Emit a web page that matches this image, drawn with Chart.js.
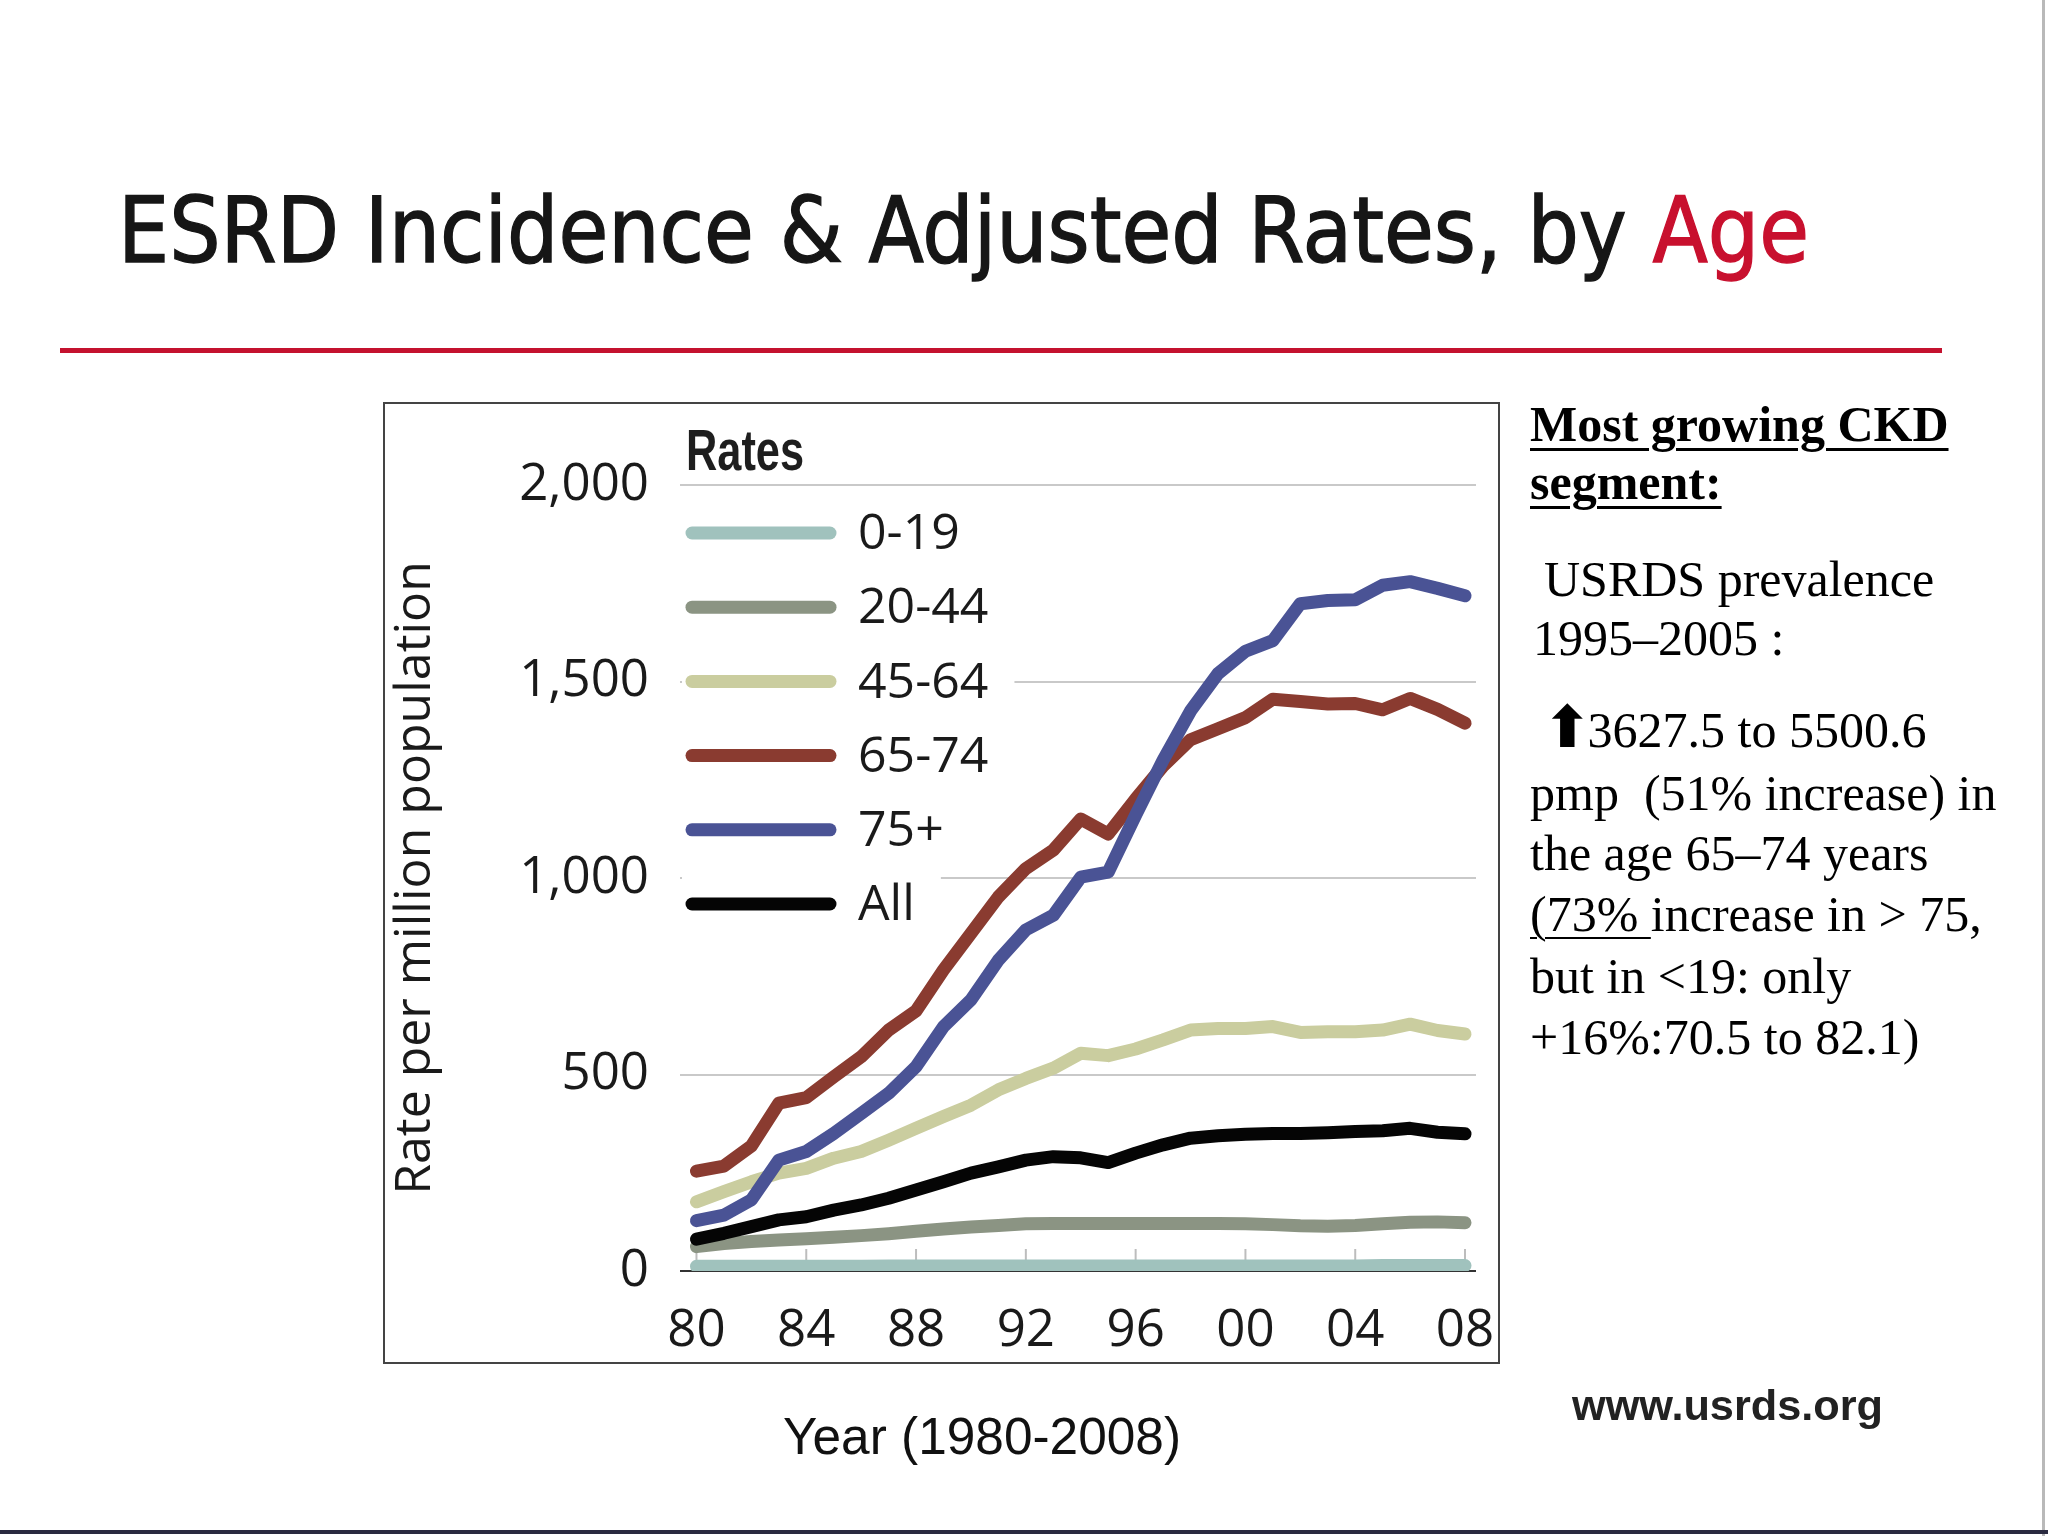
<!DOCTYPE html>
<html>
<head>
<meta charset="utf-8">
<title>ESRD Incidence &amp; Adjusted Rates, by Age</title>
<script src="https://cdn.jsdelivr.net/npm/chart.js@4.4.1/dist/chart.umd.min.js"></script>
<style>
  html, body { margin: 0; padding: 0; background: #fff; }
  #page { position: relative; width: 2048px; height: 1536px; overflow: hidden; background: #fff; }
  .abs { position: absolute; white-space: nowrap; }
  #title { font-family: "DejaVu Sans Condensed", "DejaVu Sans", sans-serif; font-stretch: condensed; font-size: 90px; color: #161616; line-height: 1; -webkit-text-stroke: 1.3px #161616; }
  #title .red { color: #c8102e; -webkit-text-stroke: 1.3px #c8102e; }
  #rule { left: 60px; top: 348px; width: 1882px; height: 5px; background: #c4122f; }
  #box { left: 383px; top: 402px; width: 1113px; height: 958px; border: 2px solid #444; }
  #chart { position: absolute; left: 0; top: 0; }
  #xtitle { font-family: "Liberation Sans", Arial, sans-serif; font-size: 52px; color: #111; line-height: 1; }
  #source { font-family: "Liberation Sans", Arial, sans-serif; font-weight: bold; font-size: 43px; color: #222; line-height: 1; }
  .note { font-family: "Liberation Serif", "Times New Roman", serif; font-size: 50px; color: #000; line-height: 1; }
  .note.head { font-weight: bold; text-decoration: underline; text-decoration-thickness: 3px; text-underline-offset: 7px; }
  .note u { text-decoration-thickness: 2px; text-underline-offset: 6px; }
  .arrow { font-family: "DejaVu Sans", sans-serif; font-weight: bold; font-size: 58px; margin-right: -4px; }
  #edgeRight { left: 2042px; top: 0; width: 3px; height: 1536px; background: #b9b9b9; }
  #edgeBottom { left: 0; top: 1530px; width: 2048px; height: 4px; background: #2a2a40; }
</style>
</head>
<body>
<div id="page">
  <div id="title" class="abs">ESRD Incidence &amp; Adjusted Rates, by <span class="red">Age</span></div>
  <div id="rule" class="abs"></div>
  <div id="box" class="abs"></div>
  <canvas id="chart" width="2048" height="1536"></canvas>
  <div id="xtitle" class="abs">Year (1980-2008)</div>
  <div id="source" class="abs">www.usrds.org</div>

  <div class="abs note head" data-x="1530" data-b="441">Most growing CKD</div>
  <div class="abs note head" data-x="1530" data-b="499">segment:</div>
  <div class="abs note" data-x="1544" data-b="596">USRDS prevalence</div>
  <div class="abs note" data-x="1533" data-b="655">1995–2005 :</div>
  <div class="abs note" data-x="1543" data-b="747"><span class="arrow">⬆</span>3627.5 to 5500.6</div>
  <div class="abs note" data-x="1530" data-b="810">pmp&nbsp; (51% increase) in</div>
  <div class="abs note" data-x="1530" data-b="870">the age 65–74 years</div>
  <div class="abs note" data-x="1530" data-b="931"><u>(73% </u>increase in &gt; 75,</div>
  <div class="abs note" data-x="1530" data-b="993">but in &lt;19: only</div>
  <div class="abs note" data-x="1530" data-b="1054">+16%:70.5 to 82.1)</div>

  <div id="edgeRight" class="abs"></div>
  <div id="edgeBottom" class="abs"></div>
</div>

<script>
// Incidence rates per million population, by age group, 1980-2008
const years = [1980, 1981, 1982, 1983, 1984, 1985, 1986, 1987, 1988, 1989,
               1990, 1991, 1992, 1993, 1994, 1995, 1996, 1997, 1998, 1999,
               2000, 2001, 2002, 2003, 2004, 2005, 2006, 2007, 2008];
const xTickYears = [1980, 1984, 1988, 1992, 1996, 2000, 2004, 2008];
const xTickLabels = ['80', '84', '88', '92', '96', '00', '04', '08'];
const yTicks = [0, 500, 1000, 1500, 2000];
const yTickLabels = ['0', '500', '1,000', '1,500', '2,000'];

const seriesNames = ['0-19', '20-44', '45-64', '65-74', '75+', 'All'];
const seriesColors = ['#a0c2bd', '#8b9483', '#cacd9f', '#8a3b30', '#4a5395', '#050505'];

const age0to19 = [12, 12, 12, 12, 12, 12, 12, 13, 13, 13,
                  13, 13, 13, 13, 13, 13, 13, 13, 13, 13,
                  13, 13, 13, 13, 13, 14, 14, 14, 14];
const age20to44 = [62, 70, 75, 79, 82, 86, 90, 95, 101, 107,
                   112, 116, 120, 121, 121, 121, 121, 121, 121, 121,
                   120, 118, 115, 114, 116, 120, 124, 125, 123];
const age45to64 = [176, 202, 227, 249, 261, 287, 304, 333, 363, 393,
                   422, 461, 490, 516, 554, 548, 565, 588, 613, 617,
                   617, 622, 607, 609, 609, 613, 628, 612, 603];
const age65to74 = [254, 267, 318, 427, 441, 494, 545, 613, 662, 766,
                   859, 952, 1024, 1071, 1150, 1112, 1201, 1285, 1352, 1380,
                   1408, 1455, 1449, 1443, 1444, 1428, 1457, 1429, 1394];
const age75plus = [128, 142, 181, 282, 304, 350, 401, 452, 520, 622,
                   690, 791, 868, 905, 1002, 1015, 1160, 1300, 1425, 1520,
                   1577, 1604, 1698, 1706, 1708, 1745, 1754, 1737, 1718];
const allAges = [81, 96, 113, 130, 138, 155, 168, 185, 206, 227,
                 249, 265, 282, 291, 288, 276, 300, 321, 338, 344,
                 348, 350, 350, 352, 355, 357, 363, 353, 349];

const seriesValues = [age0to19, age20to44, age45to64, age65to74, age75plus, allAges];
// drawing order: lower number ends up on top
const seriesOrder = [5, 4, 3, 2, 1, 0];

const tickFont = { family: '"Open Sans", sans-serif', size: 51 };
const inkColor = '#1a1a1a';

// Legend inside the plot, each row on a white patch that hides the grid
const ratesLegend = {
  id: 'ratesLegend',
  beforeDatasetsDraw(chart) {
    const ctx = chart.ctx;
    const area = chart.chartArea;
    const x = chart.scales.x;
    const y = chart.scales.y;
    ctx.save();

    // zero line, then small year ticks standing on it
    const y0 = y.getPixelForValue(0);
    ctx.strokeStyle = '#333';
    ctx.lineWidth = 2;
    ctx.beginPath();
    ctx.moveTo(area.left, y0);
    ctx.lineTo(area.right, y0);
    ctx.stroke();
    ctx.strokeStyle = '#bdbdbd';
    xTickYears.forEach(yr => {
      const px = x.getPixelForValue(yr);
      ctx.beginPath();
      ctx.moveTo(px, y0);
      ctx.lineTo(px, y0 - 22);
      ctx.stroke();
    });

    // legend title, squeezed to the narrow bold face of the original
    ctx.fillStyle = '#1e1e1e';
    ctx.textAlign = 'left';
    ctx.textBaseline = 'alphabetic';
    ctx.font = 'bold 58px "Liberation Sans Narrow", "Liberation Sans", sans-serif';
    const titleW = ctx.measureText('Rates').width;
    ctx.save();
    ctx.translate(area.left + 6, area.top - 15);
    ctx.scale(118 / titleW, 1);
    ctx.fillText('Rates', 0, 0);
    ctx.restore();

    // legend rows
    ctx.font = '50px "Open Sans", sans-serif';
    const lineStart = area.left + 12;
    const lineEnd = area.left + 150;
    const textX = area.left + 178;
    const rowStep = 74.2;
    seriesNames.forEach((name, i) => {
      const cy = area.top + 48 + i * rowStep;
      const tw = ctx.measureText(name).width;
      ctx.fillStyle = '#fff';
      ctx.fillRect(area.left + 2, cy - rowStep / 2, textX + tw + 26 - area.left - 2, rowStep);
      ctx.strokeStyle = seriesColors[i];
      ctx.lineWidth = 13;
      ctx.lineCap = 'round';
      ctx.beginPath();
      ctx.moveTo(lineStart, cy);
      ctx.lineTo(lineEnd, cy);
      ctx.stroke();
      ctx.fillStyle = inkColor;
      ctx.textBaseline = 'middle';
      ctx.fillText(name, textX, cy + 2);
    });
    ctx.restore();
  }
};

function placeText(el, left, baseline, width) {
  el.style.left = left + 'px';
  el.style.top = '0px';
  el.style.transform = 'none';
  const mark = document.createElement('span');
  mark.style.cssText = 'display:inline-block;width:0;height:0;vertical-align:baseline';
  el.appendChild(mark);
  const off = mark.getBoundingClientRect().top - el.getBoundingClientRect().top;
  el.removeChild(mark);
  el.style.top = (baseline - off) + 'px';
  if (width) {
    const w = el.getBoundingClientRect().width;
    el.style.transformOrigin = '0 0';
    el.style.transform = 'scaleX(' + (width / w) + ')';
  }
}

function layoutText() {
  placeText(document.getElementById('title'), 118, 262, 1691);
  placeText(document.getElementById('xtitle'), 783, 1454, 398);
  placeText(document.getElementById('source'), 1572, 1420, 311);
  document.querySelectorAll('.note').forEach(el => {
    placeText(el, +el.dataset.x, +el.dataset.b);
  });
}

function buildChart() {
  const datasets = seriesNames.map((name, i) => ({
    label: name,
    data: years.map((yr, k) => ({ x: yr, y: seriesValues[i][k] })),
    borderColor: seriesColors[i],
    borderWidth: 13,
    borderJoinStyle: 'round',
    borderCapStyle: 'round',
    pointRadius: 0,
    tension: 0,
    fill: false,
    order: seriesOrder[i]
  }));

  new Chart(document.getElementById('chart'), {
    type: 'line',
    data: { datasets },
    plugins: [ratesLegend],
    options: {
      responsive: false,
      animation: false,
      devicePixelRatio: 1,
      layout: { padding: { left: 386, right: 572, top: 485, bottom: 165 } },
      plugins: {
        legend: { display: false },
        tooltip: { enabled: false }
      },
      scales: {
        x: {
          type: 'linear',
          min: 1979.4,
          max: 2008.4,
          afterBuildTicks: scale => { scale.ticks = xTickYears.map(v => ({ value: v })); },
          afterFit: scale => { scale.height = 100; },
          grid: { display: false, drawTicks: false },
          border: { display: false },
          ticks: {
            autoSkip: false,
            maxRotation: 0,
            padding: 30,
            font: tickFont,
            color: inkColor,
            callback: value => xTickLabels[xTickYears.indexOf(value)]
          }
        },
        y: {
          min: 0,
          max: 2000,
          afterBuildTicks: scale => { scale.ticks = yTicks.map(v => ({ value: v })); },
          afterFit: scale => { scale.width = 294; },
          grid: { color: '#c9c9c9', lineWidth: 2, drawTicks: false },
          border: { display: false },
          ticks: {
            padding: 31,
            font: tickFont,
            color: inkColor,
            callback: value => yTickLabels[yTicks.indexOf(value)]
          },
          title: {
            display: true,
            text: 'Rate per million population',
            color: inkColor,
            padding: 0,
            font: { family: '"Open Sans", sans-serif', size: 50, lineHeight: 1.2 }
          }
        }
      }
    }
  });
}

Promise.all([
  document.fonts.load('51px "Open Sans"'),
  document.fonts.load('bold 58px "Liberation Sans Narrow"'),
  document.fonts.load('50px "Liberation Serif"'),
  document.fonts.load('90px "DejaVu Sans"')
]).catch(() => {}).then(() => {
  layoutText();
  buildChart();
});
</script>
</body>
</html>
